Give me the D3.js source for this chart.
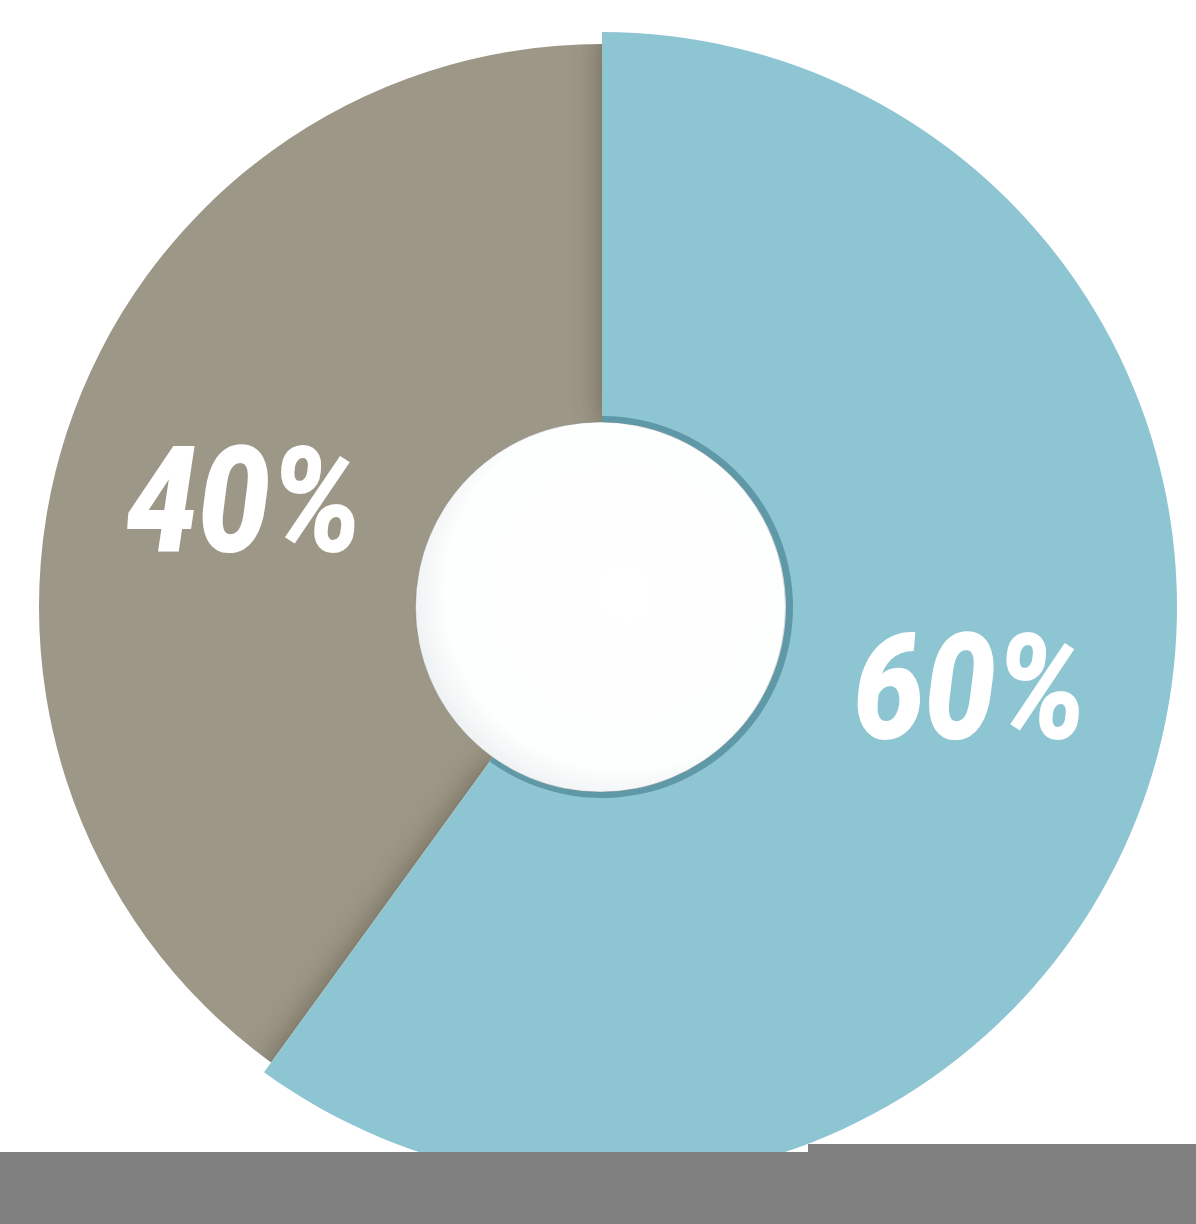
<!DOCTYPE html>
<html>
<head>
<meta charset="utf-8">
<script src="https://cdn.jsdelivr.net/npm/d3@7"></script>
<style>
  html, body { margin: 0; padding: 0; background: #fff; }
  svg { display: block; }
  .pct {
    font-family: Roboto, 'Liberation Sans', sans-serif;
    font-weight: 900;
    font-style: italic;
    fill: #fff;
  }
</style>
</head>
<body>
<script>
// chart data
const categories = ['A', 'B']
const values = [60, 40]
const labels = ['60%', '40%']

const width = 1196, height = 1224
const cx = 602, cy = 607
const innerR = 184
const outerR = [575, 563]        // blue sits a bit higher than the gray one
const colors = ['#8ec5d2', '#9d9787']
const rimColor = '#5f98a6'
const labelFont = 148
const labelWidth = [234, 237]
// label anchor positions (middle of text, baseline)
const labelPos = [[970, 738], [244, 551]]

const svg = d3.select('body').append('svg')
  .attr('width', width)
  .attr('height', height)

const defs = svg.append('defs')

defs.append('filter')
  .attr('id', 'soft')
  .attr('x', '-20%').attr('y', '-20%')
  .attr('width', '140%').attr('height', '140%')
  .append('feGaussianBlur')
  .attr('stdDeviation', 15)

const hole = defs.append('radialGradient')
  .attr('id', 'hole')
  .attr('cx', '56%').attr('cy', '46%').attr('r', '56%')
hole.append('stop').attr('offset', '0%').attr('stop-color', '#ffffff')
hole.append('stop').attr('offset', '86%').attr('stop-color', '#fdfefe')
hole.append('stop').attr('offset', '100%').attr('stop-color', '#f0f3f4')

const pie = d3.pie().sort(null).value((d)=> d)
const slices = pie(values)

const arcFor = (i)=> d3.arc().innerRadius(innerR).outerRadius(outerR[i])

const g = svg.append('g').attr('transform', `translate(${cx},${cy})`)

// gray slice
g.append('path')
  .attr('d', arcFor(1)(slices[1]))
  .attr('fill', colors[1])

// shadow the blue slice casts on the gray one
defs.append('clipPath')
  .attr('id', 'grayClip')
  .append('path')
  .attr('d', arcFor(1)(slices[1]))

g.append('g')
  .attr('clip-path', 'url(#grayClip)')
  .append('path')
  .attr('d', arcFor(0)(slices[0]))
  .attr('fill', '#3b3526')
  .attr('opacity', 0.5)
  .attr('filter', 'url(#soft)')

// blue slice
g.append('path')
  .attr('d', arcFor(0)(slices[0]))
  .attr('fill', colors[0])

// darker inner wall of the blue slice
g.append('path')
  .attr('d', d3.arc().innerRadius(innerR).outerRadius(innerR + 7)(slices[0]))
  .attr('fill', rimColor)

// white hole
g.append('circle')
  .attr('cx', -1.5)
  .attr('cy', 0)
  .attr('r', innerR + 1)
  .attr('fill', 'url(#hole)')
  .attr('stroke', '#6f7b7b')
  .attr('stroke-opacity', 0.35)
  .attr('stroke-width', 1)

// percentage labels
svg.selectAll('.pct')
  .data(slices)
  .enter()
  .append('text')
  .attr('class', 'pct')
  .attr('x', (d, i)=> labelPos[i][0])
  .attr('y', (d, i)=> labelPos[i][1])
  .attr('text-anchor', 'middle')
  .attr('font-size', labelFont)
  .attr('textLength', (d, i)=> labelWidth[i])
  .attr('lengthAdjust', 'spacingAndGlyphs')
  .text((d, i)=> labels[i])

// gray band along the bottom edge
svg.append('rect')
  .attr('x', 0).attr('y', 1152)
  .attr('width', 808).attr('height', height - 1152)
  .attr('fill', '#808080')
svg.append('rect')
  .attr('x', 808).attr('y', 1144)
  .attr('width', width - 808).attr('height', height - 1144)
  .attr('fill', '#808080')
</script>
</body>
</html>
